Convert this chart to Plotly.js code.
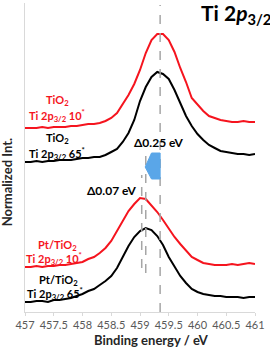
<!DOCTYPE html>
<html>
<head>
<meta charset="utf-8">
<script src="https://cdn.plot.ly/plotly-3.0.1.min.js"></script>
<style>html,body{margin:0;padding:0;background:#fff;}#chart{width:270px;height:350px;}</style>
</head>
<body>
<div id="chart"></div>
<script>
// Binding energy (eV)
var energy = [457.0,457.1,457.2,457.3,457.4,457.5,457.6,457.7,457.8,457.9,
              458.0,458.1,458.2,458.3,458.4,458.5,458.6,458.7,458.8,458.9,
              459.0,459.1,459.2,459.3,459.4,459.5,459.6,459.7,459.8,459.9,
              460.0,460.1,460.2,460.3,460.4,460.5,460.6,460.7,460.8,460.9,461.0];
// Normalized intensity (stacked, with offsets as in the figure)
var tio2_10 = [184,184,184,185,184,185,185,185,186,186,
               187,188,188,189,191,194,199,208,217,228,
               242,259,272,278,278,272,260,244,230,214,
               207,201,196,194,192,191,190,190,191,190,190];
var tio2_65 = [150,150,151,150,151,151,152,152,152,153,
               154,154,155,155,157,160,163,170,179,192,
               211,225,235,240,238,233,222,209,196,186,
               178,172,167,164,161,160,159,158,158,157,158];
var pt_10 = [45,45,46,45,46,46,47,47,48,49,
             50,53,55,59,64,71,81,92,101,108,
             114,113,107,100,92,83,75,68,61,55,
             52,49,48,47,47,47,48,47,48,49,48];
var pt_65 = [10,10,11,11,10,12,12,13,14,16,
             18,21,23,27,31,36,44,55,66,75,
             81,84,82,76,67,55,45,36,29,23,
             20,18,17,16,16,15,15,15,14,15,15];
var xTicks = [457,457.5,458,458.5,459,459.5,460,460.5,461];
var xTickText = ['457','457.5','458','458.5','459','459.5','460','460.5','461'];

var RED = '#f5141e', BLK = '#000000', GRAY = '#a6a6a6';
var FONT = 'Lato, "Open Sans", sans-serif';

function tr(y, c){ return {x: energy, y: y, type:'scatter', mode:'lines', line:{color:c, width:2}, hoverinfo:'skip', showlegend:false}; }
var data = [tr(tio2_10, RED), tr(tio2_65, BLK), tr(pt_10, RED), tr(pt_65, BLK)];

function lab(x, y, t, c){ return {x:x, y:y, xref:'x', yref:'y', xanchor:'center', yanchor:'middle', text:t, showarrow:false, font:{family:FONT, size:11, color:c, weight:'bold'}}; }

var layout = {
  width:270, height:350,
  margin:{l:25, r:15, t:3, b:38},
  paper_bgcolor:'#fff', plot_bgcolor:'#fff',
  xaxis:{range:[457,461], tickvals:xTicks, ticktext:xTickText, showgrid:false, zeroline:false,
         showline:true, linecolor:'#d9d9d9', linewidth:1, ticks:'outside', ticklen:3, tickcolor:'#d9d9d9',
         tickfont:{family:FONT, size:11, color:'#595959'}},
  yaxis:{range:[0,309], showgrid:false, zeroline:false, showticklabels:false, ticks:'',
         showline:true, linecolor:'#d9d9d9', linewidth:1},
  shapes:[
    {type:'line', xref:'x', yref:'y', x0:459.35, x1:459.35, y0:0, y1:307, line:{color:GRAY, width:1.5, dash:'dash'}},
    {type:'line', xref:'x', yref:'y', x0:459.10, x1:459.10, y0:39, y1:164, line:{color:GRAY, width:1.5, dash:'dash'}},
    {type:'line', xref:'x', yref:'y', x0:459.03, x1:459.03, y0:44, y1:137, line:{color:GRAY, width:1.5, dash:'dash'}},
    {type:'path', xref:'x', yref:'y', path:'M 459.09 145 L 459.20 159 L 459.35 159 L 459.35 133 L 459.20 133 Z',
     fillcolor:'#5aa6e8', line:{color:'#5aa6e8', width:1}}
  ],
  annotations:[
    lab(457.56, 212, 'TiO<sub>2</sub>', RED),
    lab(457.56, 197, 'Ti 2p<sub>3/2</sub> 10<sup>*</sup>', RED),
    lab(457.56, 174, 'TiO<sub>2</sub>', BLK),
    lab(457.55, 159, 'Ti 2p<sub>3/2</sub> 65<sup>*</sup>', BLK),
    lab(457.56, 67, 'Pt/TiO<sub>2</sub>', RED),
    lab(457.50, 54, 'Ti 2p<sub>3/2</sub> 10<sup>*</sup>', RED),
    lab(457.58, 32, 'Pt/TiO<sub>2</sub>', BLK),
    lab(457.52, 19, 'Ti 2p<sub>3/2</sub> 65<sup>*</sup>', BLK),
    {x:459.33, y:170, xref:'x', yref:'y', xanchor:'center', yanchor:'middle', text:'Δ0.25 eV', showarrow:false, font:{family:FONT, size:12, color:BLK, weight:'bold'}},
    {x:458.50, y:122, xref:'x', yref:'y', xanchor:'center', yanchor:'middle', text:'Δ0.07 eV', showarrow:false, font:{family:FONT, size:12, color:BLK, weight:'bold'}},
    {x:0.755, y:0.965, xref:'paper', yref:'paper', xanchor:'left', yanchor:'middle', text:'Ti 2<i>p</i><sub>3/2</sub>', showarrow:false,
     font:{family:FONT, size:21, color:BLK, weight:'bold'}},
    {x:0.55, y:-0.092, xref:'paper', yref:'paper', xanchor:'center', yanchor:'middle', text:'Binding energy / eV', showarrow:false,
     font:{family:FONT, size:13, color:'#262626', weight:'bold'}},
    {x:-0.078, y:0.42, xref:'paper', yref:'paper', xanchor:'center', yanchor:'middle', text:'Normalized Int.', textangle:-90, showarrow:false,
     font:{family:FONT, size:13, color:'#262626', weight:'bold'}}
  ]
};
Plotly.newPlot('chart', data, layout, {staticPlot:true, displayModeBar:false});
</script>
</body>
</html>
